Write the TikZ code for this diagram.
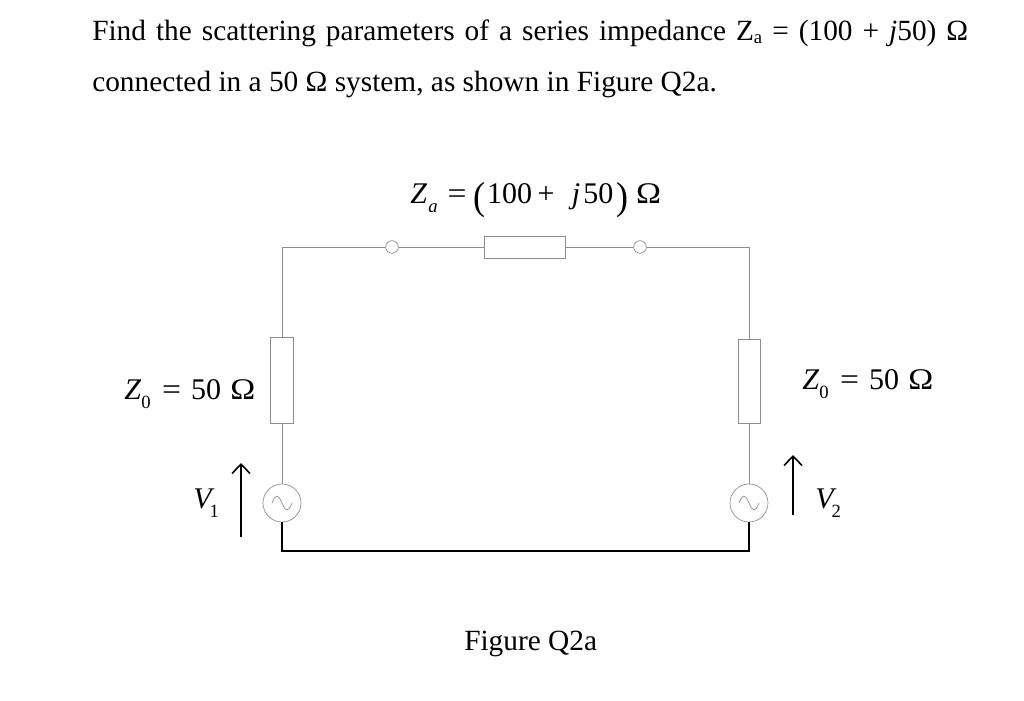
\documentclass[tikz,border=0pt]{standalone}
\usepackage{fontspec}
\setmainfont{Liberation Serif}
\usetikzlibrary{positioning}
\usetikzlibrary{shapes,shapes.geometric,arrows.meta}
\definecolor{wiregray}{gray}{0.55}
\newcommand{\subtxt}[1]{\raisebox{-0.12em}{\fontsize{14}{14}\selectfont #1}}
\newcommand{\lowtxt}[1]{\raisebox{-6.75pt}{\fontsize{14}{14}\selectfont #1}}
\newcommand{\tallparen}[1]{\raisebox{-4.5pt}{\scalebox{1.2}[1.3]{#1}}}
\newcommand{\bigeq}{\scalebox{1.12}[1]{=}}
\newcommand{\bigohm}{\scalebox{1.12}[1]{Ω}}
\newcommand{\zohm}{\textit{Z}\kern0.2pt\lowtxt{0}\kern8.5pt\bigeq\kern7.5pt 50\kern7pt\bigohm}
\tikzstyle{novertex} = [draw=none, fill=none, text centered, inner sep=0pt]
\tikzstyle{prose} = [novertex, anchor=base west, font=\fontsize{22}{26}\selectfont]
\tikzstyle{label} = [novertex, anchor=base west, font=\fontsize{22.5}{26}\selectfont]
\tikzstyle{resistor} = [rectangle, draw=wiregray, fill=white, line width=0.6pt, inner sep=0pt]
\tikzstyle{terminal} = [circle, draw=wiregray, fill=white, line width=0.5pt, inner sep=0pt, minimum size=9.5pt]
\tikzstyle{source} = [circle, draw=wiregray, fill=white, line width=0.5pt, inner sep=0pt, minimum size=28.5pt]
\tikzstyle{wire} = [draw=wiregray, line width=0.6pt]
\tikzstyle{ground} = [draw=black, line width=1.3pt]
\tikzstyle{volt} = [draw=black, line width=1.2pt, -{Straight Barb[length=7pt,width=13.5pt]}]
\tikzstyle{sine} = [draw=wiregray, line width=0.5pt]
\begin{document}
\begin{tikzpicture}[x=0.75pt, y=-0.75pt]
	\useasboundingbox (0,0) rectangle (1024,700);

	% question text
	\node [prose] (T1) at (92,40) {\makebox[657pt][s]{Find the scattering parameters of a series impedance Z\subtxt{a} = (100 + \textit{j}50) Ω}};
	\node [prose] (T2) at (92,91) {connected in a 50 Ω system, as shown in Figure Q2a.};

	% place nodes
	\node [resistor, minimum width=60.75pt, minimum height=16.5pt] (Ra) at (524.5,247) {};
	\node [terminal] (Pa) at (392,247) {};
	\node [terminal] (Pb) at (640,247) {};
	\node [resistor, minimum width=17.25pt, minimum height=64.5pt] (R1) at (282,380) {};
	\node [resistor, minimum width=16.5pt, minimum height=63pt] (R2) at (749,381) {};
	\node [source] (S1) at (282,503) {};
	\node [source] (S2) at (749,503) {};
	\coordinate (C1) at (282,247);
	\coordinate (C2) at (749,247);
	\coordinate (B1) at (282,551);
	\coordinate (B2) at (749,551);
	\coordinate (A1) at (241,537);
	\coordinate (A2) at (241,463);
	\coordinate (A3) at (793,515);
	\coordinate (A4) at (793,455);

	% draw edges
	\path [wire] (R1) -- (C1) -- (Pa);
	\path [wire] (Pa) -- (Ra);
	\path [wire] (Ra) -- (Pb);
	\path [wire] (Pb) -- (C2) -- (R2);
	\path [wire] (R1) -- (S1);
	\path [wire] (R2) -- (S2);
	\path [ground] (S1) -- (B1) -- (B2) -- (S2);
	\path [volt] (A1) -- (A2);
	\path [volt] (A3) -- (A4);

	% sine marks
	\path [sine] ([xshift=-7.5pt]S1.center) .. controls +(3pt,7pt) and +(-3pt,7pt) .. (S1.center) .. controls +(3pt,-7pt) and +(-3pt,-7pt) .. ([xshift=7.5pt]S1.center);
	\path [sine] ([xshift=-7.5pt]S2.center) .. controls +(3pt,7pt) and +(-3pt,7pt) .. (S2.center) .. controls +(3pt,-7pt) and +(-3pt,-7pt) .. ([xshift=7.5pt]S2.center);

	% labels
	\node [label] (L1) at (410,203) {\textit{Z}\kern0.8pt\lowtxt{\textit{a}}\kern7.5pt\bigeq\kern5pt\tallparen{(}\kern1.5pt 100\kern4pt+\kern13pt\textit{j}\kern2.5pt 50\kern2.5pt\tallparen{)}\kern5.5pt\bigohm};
	\node [label] (L2) at (124,399) {\zohm};
	\node [label] (L3) at (802,389) {\zohm};
	\node [label] (L4) at (193,508) {\textit{V}\kern-3.6pt\lowtxt{1}};
	\node [label] (L5) at (815,508) {\textit{V}\kern-3.6pt\lowtxt{2}};
	\node [prose] (L6) at (464,650) {Figure Q2a};
\end{tikzpicture}
\end{document}
